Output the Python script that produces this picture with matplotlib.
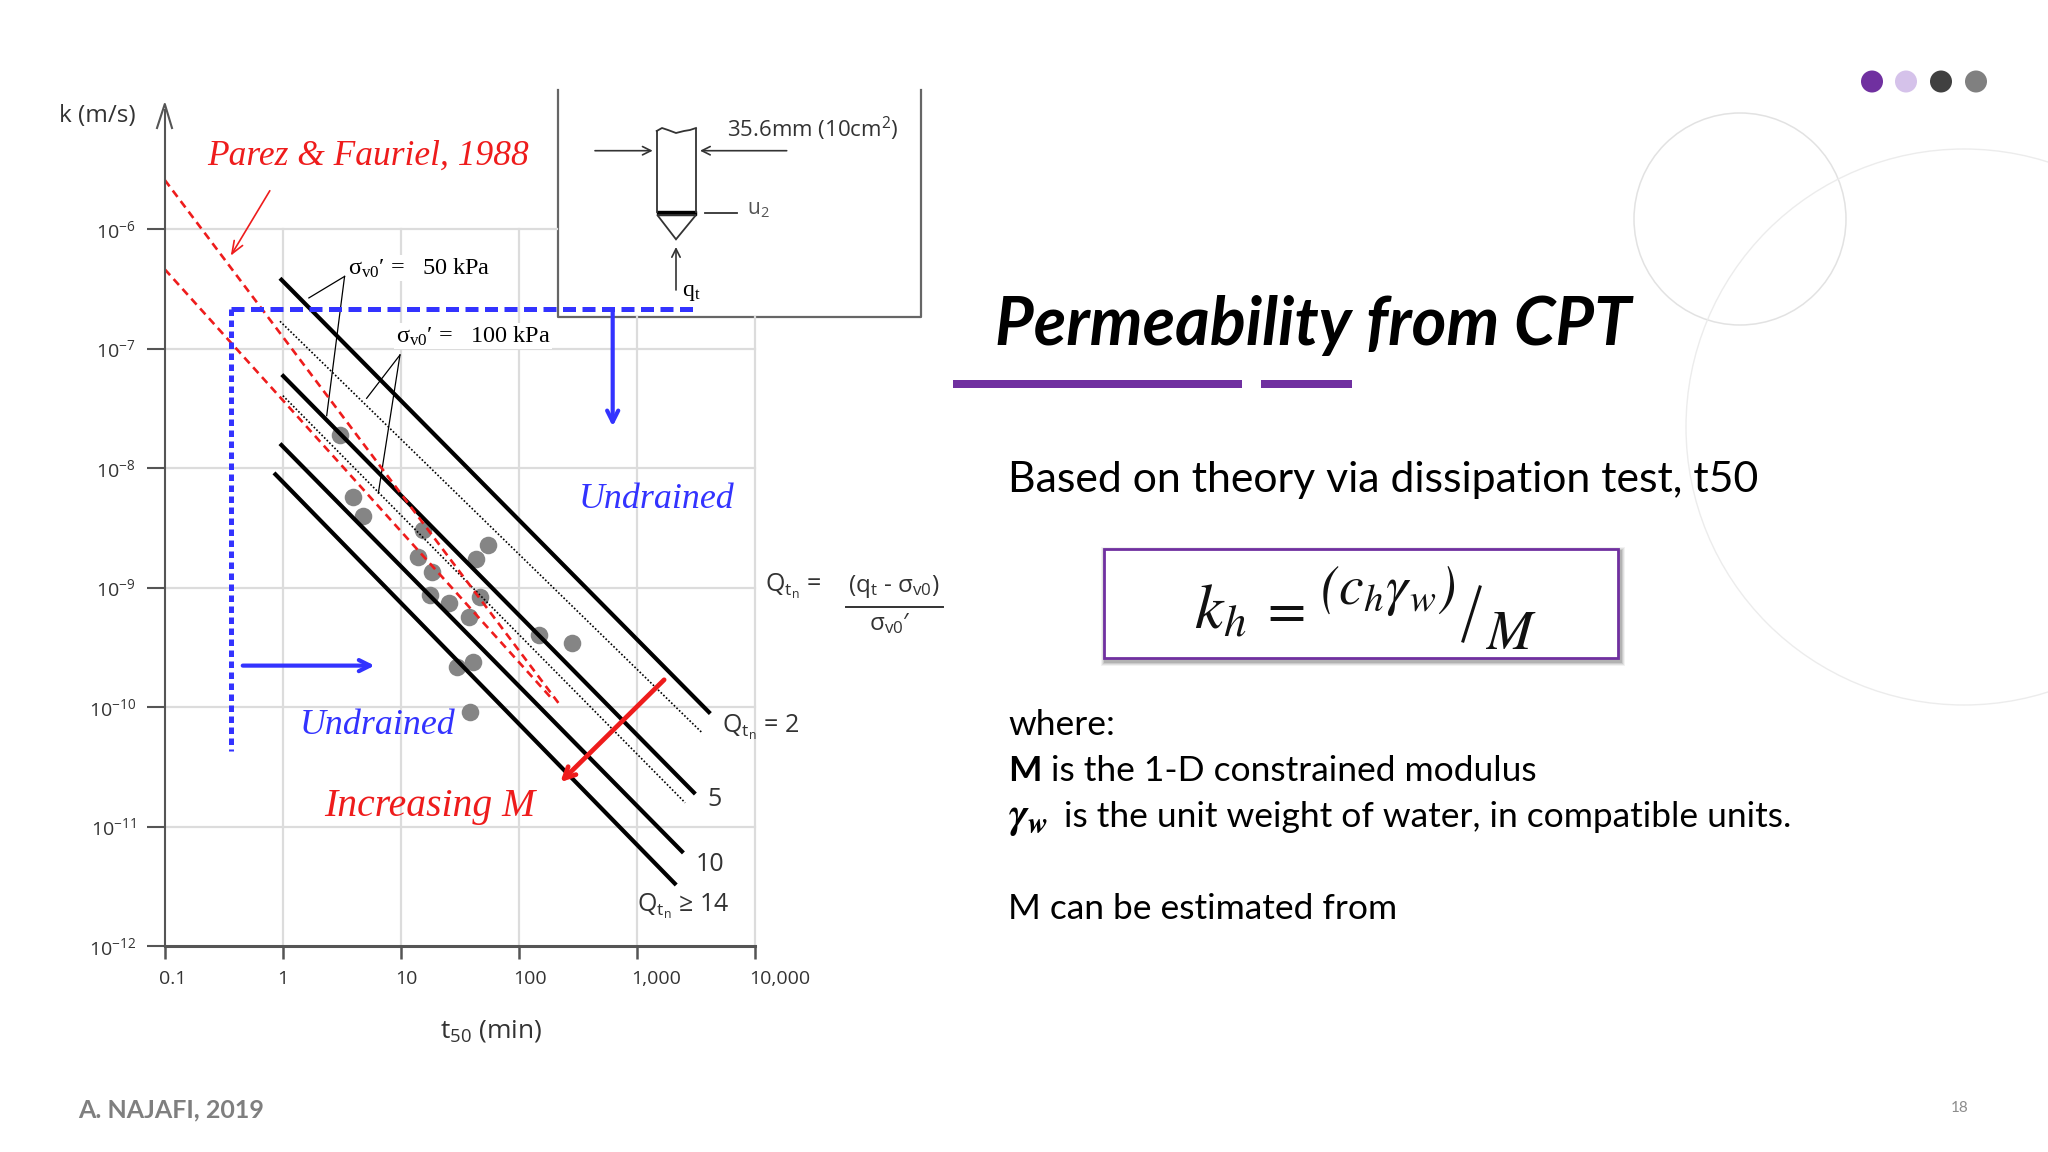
import matplotlib
matplotlib.use('Agg')
import matplotlib.pyplot as plt
from matplotlib.patches import Circle, Rectangle, Polygon
from matplotlib import transforms

plt.rcParams['mathtext.default'] = 'regular'
plt.rcParams['font.family'] = ['Open Sans', 'DejaVu Sans']

W, H = 2048, 1152

# ---- values (t50 in min, k in m/s) ----
# design lines, start and end points
line_t0 = [0.945, 0.945, 0.979, 1.0, 0.945, 0.841]
line_k0 = [3.87e-7, 1.69e-7, 6.05e-8, 4.03e-8, 1.60e-8, 9.1e-9]
line_t1 = [4169, 3581, 3112, 2553, 2466, 2143]
line_k1 = [8.81e-11, 6.04e-11, 1.87e-11, 1.58e-11, 6.01e-12, 3.24e-12]
line_dotted = [False, True, False, True, False, False]

# Parez & Fauriel (1988) bounds
parez_t0 = [0.1, 0.1]
parez_k0 = [2.57e-6, 4.6e-7]
parez_t1 = [222, 183]
parez_k1 = [1.04e-10, 1.22e-10]

# measured points
dots_t = [3.05, 3.90, 4.80, 15.3, 14.0, 18.2, 54.8, 42.9, 17.6, 25.6, 46.7,
          37.7, 148, 281, 40.9, 29.6, 38.4]
dots_k = [1.89e-8, 5.75e-9, 3.96e-9, 3.03e-9, 1.81e-9, 1.36e-9, 2.27e-9,
          1.72e-9, 8.65e-10, 7.38e-10, 8.38e-10, 5.70e-10, 4.01e-10,
          3.41e-10, 2.39e-10, 2.17e-10, 9.14e-11]

# undrained limits
k_limit = 2.14e-7
t_limit = 0.362

x_ticks = [0.1, 1, 10, 100, 1000, 10000]
x_tick_labels = ['0.1', '1', '10', '100', '1,000', '10,000']
y_ticks = [1e-12, 1e-11, 1e-10, 1e-9, 1e-8, 1e-7, 1e-6]
y_tick_labels = ['10$^{-12}$', '10$^{-11}$', '10$^{-10}$', '10$^{-9}$',
                 '10$^{-8}$', '10$^{-7}$', '10$^{-6}$']

PURPLE = '#7030A0'
BLUE = '#3333ff'
RED = '#ee1c1c'
SERIF = 'Liberation Serif'

fig = plt.figure(figsize=(W / 100, H / 100), dpi=100)
bg = fig.add_axes([0, 0, 1, 1], zorder=0)
bg.set_xlim(0, W)
bg.set_ylim(H, 0)
bg.axis('off')

ax = fig.add_axes([164.8 / W, 1 - 946 / H, (755.2 - 164.8) / W, (946 - 109.5) / H], zorder=1)
ax.patch.set_alpha(0)

fg = fig.add_axes([0, 0, 1, 1], zorder=2)
fg.set_xlim(0, W)
fg.set_ylim(H, 0)
fg.axis('off')

# ---------------- chart ----------------
ax.set_xscale('log')
ax.set_yscale('log')
ax.set_xlim(0.1, 1e4)
ax.set_ylim(1e-12, 1e-5)
ax.spines[['top', 'right']].set_visible(False)
ax.spines['left'].set_color('#555555')
ax.spines['left'].set_linewidth(1.5)
ax.spines['bottom'].set_color('#555555')
ax.spines['bottom'].set_linewidth(2.2)
ax.set_xticks(x_ticks)
ax.set_xticklabels(x_tick_labels)
ax.set_yticks(y_ticks)
ax.set_yticklabels(y_tick_labels)
ax.minorticks_off()
ax.tick_params(axis='x', direction='out', length=9, width=1.8, color='#555555',
               pad=8, labelsize=14, labelcolor='#333333')
ax.tick_params(axis='y', direction='out', length=13, width=1.5, color='#555555',
               pad=8, labelsize=14, labelcolor='#333333')
shift = transforms.ScaledTranslation(-6 / 100, 0, fig.dpi_scale_trans)
for lab in ax.get_xticklabels():
    lab.set_ha('left')
    lab.set_transform(lab.get_transform() + shift)

# grid (the inset covers the top right corner)
for k in y_ticks[1:]:
    ax.plot([0.1, 211 if k == 1e-6 else 1e4], [k, k], color='#dcdcdc', lw=1.6,
            zorder=0.5, clip_on=False)
for t in x_ticks[1:]:
    ax.plot([t, t], [1e-12, 1.82e-7 if t >= 1000 else 1e-6], color='#dcdcdc',
            lw=1.6, zorder=0.5, clip_on=False)

ax.scatter(dots_t, dots_k, s=160, color='#858585', zorder=1.5, linewidths=0)

for t0, k0, t1, k1, dotted in zip(line_t0, line_k0, line_t1, line_k1, line_dotted):
    if dotted:
        ax.plot([t0, t1], [k0, k1], color='black', lw=1.2, ls=(0, (1, 1.2)), zorder=2)
    else:
        ax.plot([t0, t1], [k0, k1], color='black', lw=3.0, zorder=2,
                solid_capstyle='butt')

for t0, k0, t1, k1 in zip(parez_t0, parez_k0, parez_t1, parez_k1):
    ax.plot([t0, t1], [k0, k1], color=RED, lw=1.9, ls=(0, (3, 2)), zorder=2.5)

# leaders for sigma labels
ax.plot([3.33, 1.66], [4.01e-7, 2.65e-7], color='black', lw=0.9, zorder=2)
ax.plot([3.33, 2.35], [4.01e-7, 2.74e-8], color='black', lw=0.9, zorder=2)
ax.plot([9.81, 5.12], [8.83e-8, 3.83e-8], color='black', lw=0.9, zorder=2)
ax.plot([9.81, 6.43], [8.83e-8, 6.14e-9], color='black', lw=0.9, zorder=2)

# undrained limits and arrows
ax.plot([t_limit, 2986], [k_limit, k_limit], color=BLUE, lw=3.6,
        ls=(0, (2.6, 1.3)), zorder=4, clip_on=False)
ax.plot([t_limit, t_limit], [k_limit, 4.3e-11], color=BLUE, lw=3.6,
        ls=(0, (1.3, 0.9)), zorder=4)
arrow = '->,head_length=0.8,head_width=0.4'
ax.annotate('', xy=(621, 2.23e-8), xytext=(621, k_limit),
            arrowprops=dict(arrowstyle=arrow, color=BLUE, lw=3, shrinkA=0, shrinkB=0))
ax.annotate('', xy=(5.98, 2.22e-10), xytext=(0.457, 2.22e-10),
            arrowprops=dict(arrowstyle=arrow, color=BLUE, lw=3, shrinkA=0, shrinkB=0))
ax.annotate('', xy=(224, 2.35e-11), xytext=(1694, 1.69e-10),
            arrowprops=dict(arrowstyle=arrow, color=RED, lw=3.4, shrinkA=0, shrinkB=0))
ax.annotate('', xy=(0.362, 5.98e-7), xytext=(0.775, 2.09e-6),
            arrowprops=dict(arrowstyle='->,head_length=0.9,head_width=0.35', color=RED,
                            lw=1.2, shrinkA=0, shrinkB=0))

# y axis arrow head and axis titles
bg.plot([157, 164.8, 172], [128, 104, 128], color='#555555', lw=1.5)
fg.text(59, 122, 'k (m/s)', fontsize=17.5, color='#333333', va='baseline')
fg.text(440, 1038, 't$_{50}$ (min)', fontsize=19, color='#333333', va='baseline')

# inset box with the cone sketch
bg.plot([557.5, 557.5, 921, 921], [90, 317, 317, 90], color='#666666', lw=1.6)
bg.plot([656.7, 656.7], [131, 212], color='#333333', lw=1.3)
bg.plot([696, 696], [129, 212], color='#333333', lw=1.3)
bg.plot([656.7, 662, 668, 676, 684, 690, 696], [131, 128, 130, 133, 131, 130, 128],
        color='#333333', lw=1.3)
bg.add_patch(Rectangle((656.7, 210.5), 39.3, 4.5, color='black'))
bg.add_patch(Polygon([(657.3, 215), (696, 215), (676, 239.3)], closed=True,
                     fill=False, ec='#333333', lw=1.3))
thin = dict(arrowstyle='->,head_length=0.6,head_width=0.3', color='#333333', lw=1.2,
            shrinkA=0, shrinkB=0)
bg.annotate('', xy=(652.7, 150.7), xytext=(595, 150.7), arrowprops=thin)
bg.annotate('', xy=(700, 150.7), xytext=(786.7, 150.7), arrowprops=thin)
bg.annotate('', xy=(676, 247), xytext=(676, 290), arrowprops=thin)
bg.plot([705, 736.7], [213.3, 213.3], color='#333333', lw=1.3)
fg.text(726.7, 137, '35.6mm (10cm$^{2}$)', fontsize=16, color='#333333', va='baseline')
fg.text(746.7, 214, 'u$_{2}$', fontsize=15, color='#555555', va='baseline')
fg.text(681.7, 296, 'q$_{t}$', fontsize=17, family=SERIF, va='baseline')

# chart annotations
fg.text(206.8, 165, 'Parez & Fauriel, 1988', fontsize=25.5, family=SERIF,
        style='italic', color=RED, va='baseline')
fg.text(578.5, 508, 'Undrained', fontsize=25.8, family=SERIF, style='italic',
        color=BLUE, va='baseline')
fg.text(300, 734, 'Undrained', fontsize=25.8, family=SERIF, style='italic',
        color=BLUE, va='baseline')
fg.text(323.7, 816.4, 'Increasing M', fontsize=28.5, family=SERIF, style='italic',
        color=RED, va='baseline')
fg.text(347.7, 274.6, "\u03c3$_{v0}$\u2032 =   50 kPa", fontsize=17.5, family=SERIF,
        va='baseline', bbox=dict(fc='white', ec='none', pad=1))
fg.text(395.7, 342.5, "\u03c3$_{v0}$\u2032 =   100 kPa", fontsize=17.5, family=SERIF,
        va='baseline', bbox=dict(fc='white', ec='none', pad=1))

fg.text(722.4, 733, 'Q$_{t_n}$ = 2', fontsize=18, color='#333333', va='baseline')
fg.text(707.4, 806.4, '5', fontsize=18, color='#333333', va='baseline')
fg.text(695.4, 870.7, '10', fontsize=18, color='#333333', va='baseline')
fg.text(636.7, 911.8, 'Q$_{t_n}$ \u2265 14', fontsize=18, color='#333333', va='baseline')
fg.text(765, 592, 'Q$_{t_n}$ =', fontsize=18, color='#333333', va='baseline')
fg.text(894, 592, '(q$_{t}$ - \u03c3$_{v0}$)', fontsize=17.5, color='#333333',
        va='baseline', ha='center')
fg.plot([846, 943], [606.7, 606.7], color='#333333', lw=1.4)
fg.text(890, 630, "\u03c3$_{v0}$\u2032", fontsize=17.5, color='#333333', va='baseline',
        ha='center')

# ---------------- slide decoration ----------------
bg.add_patch(Circle((1740, 219), 106, fill=False, ec='#e2e2e2', lw=1.1))
bg.add_patch(Circle((1964, 427), 278, fill=False, ec='#ececec', lw=1.0))
for cx, col in zip([1872, 1906, 1941, 1976], [PURPLE, '#d5c2ea', '#404040', '#808080']):
    bg.add_patch(Circle((cx, 81.5), 11, color=col, lw=0))

fg.text(995, 345, 'Permeability from CPT', fontsize=48, family='Lato',
        weight='bold', style='italic', va='baseline')
fg.add_patch(Rectangle((953, 380), 289, 8, color=PURPLE, lw=0))
fg.add_patch(Rectangle((1261, 380), 91, 8, color=PURPLE, lw=0))

fg.text(1008, 492, 'Based on theory via dissipation test, t50', fontsize=30.8,
        family='Lato', va='baseline')

# formula box with a soft shadow
for i, a in enumerate([0.05, 0.07, 0.09, 0.12]):
    d = 5 - i
    fg.add_patch(Rectangle((1104 - d + 2, 549 - d + 3), 514 + 2 * d, 109 + 2 * d,
                           color='black', alpha=a, lw=0))
fg.add_patch(Rectangle((1104, 549), 514, 109, fc='white', ec=PURPLE, lw=2))
math_kw = dict(family='STIXGeneral', style='italic', math_fontfamily='stix',
               va='baseline', color='#111111')
fg.text(1194, 628, '$k_h$', fontsize=46, **math_kw)
fg.text(1267, 628, '=', fontsize=40, family='STIXGeneral', va='baseline', color='#111111')
fg.text(1320, 604, '$(c_h\\gamma_w)$', fontsize=40, **math_kw)
fg.plot([1463, 1480], [641, 587], color='#111111', lw=2.2)
fg.text(1485, 649, '$M$', fontsize=40, **math_kw)

body = dict(fontsize=25.5, family='Lato', va='baseline', color='black')
fg.text(1008, 735, 'where:', **body)
t_m = fg.text(1008, 781, 'M', weight='bold', **body)
fg.annotate(' is the 1-D constrained modulus', xy=(1, 0), xycoords=t_m,
            ha='left', va='bottom', fontsize=25.5, family='Lato')
fg.text(1008, 827, '$\\gamma_w$', fontsize=31, family='STIXGeneral', style='italic',
        weight='bold', math_fontfamily='stix', va='baseline')
fg.text(1063.5, 827, 'is the unit weight of water, in compatible units.', **body)
fg.text(1008, 919, 'M can be estimated from', **body)

fg.text(78, 1117, 'A. NAJAFI, 2019', fontsize=18, family='Lato', weight='bold',
        color='#7f7f7f', va='baseline')
fg.text(1960, 1112, '18', fontsize=11, family='Lato', color='#8c8c8c', va='baseline',
        ha='center')

fig.savefig('out.png', dpi=100, facecolor='white')
